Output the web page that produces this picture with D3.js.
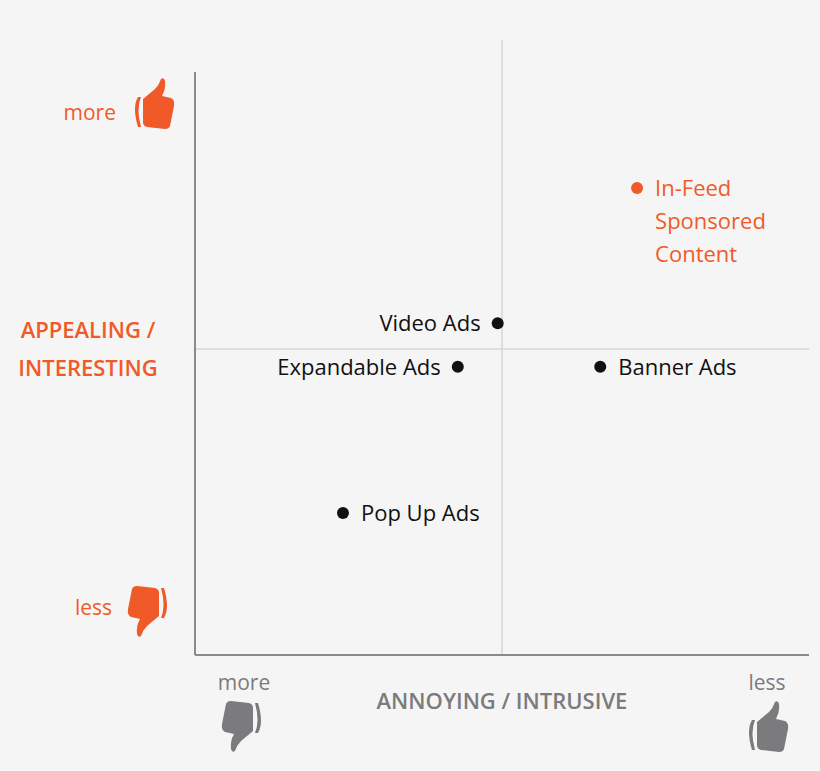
<!DOCTYPE html>
<html><head><meta charset="utf-8">
<script src="https://cdn.jsdelivr.net/npm/d3@7"></script>
<style>body{margin:0;background:#f5f5f5}svg{display:block;font-family:"Open Sans",Lato,sans-serif}</style>
</head><body><svg id="c" width="820" height="771"></svg>
<script>
const names = ["In-Feed\nSponsored\nContent","Video Ads","Expandable Ads","Banner Ads","Pop Up Ads"];
const intrusive = [7.2, 4.93, 4.28, 6.6, 2.41];
const appealing = [7.63, 5.42, 4.71, 4.71, 2.32];
const labelSide = ["right","left","left","right","right"];
const highlight = [true,false,false,false,false];

const ORANGE="#f05a28", GRAY="#7b7b7d";
const svg=d3.select("#c");
const x=d3.scaleLinear().domain([0,10]).range([195,809]);
const y=d3.scaleLinear().domain([0,10]).range([655,43]);

svg.append("line").attr("x1",x(5)).attr("x2",x(5)).attr("y1",y(10)-3).attr("y2",y(0)).attr("stroke","#d6d6d6").attr("stroke-width",1.5);
svg.append("line").attr("x1",x(0)).attr("x2",x(10)).attr("y1",y(5)).attr("y2",y(5)).attr("stroke","#d6d6d6").attr("stroke-width",1.5);
svg.append("line").attr("x1",x(0)).attr("x2",x(0)).attr("y1",72).attr("y2",y(0)).attr("stroke","#8a8a8a").attr("stroke-width",2);
svg.append("line").attr("x1",x(0)).attr("x2",x(10)).attr("y1",y(0)).attr("y2",y(0)).attr("stroke","#8a8a8a").attr("stroke-width",2);

names.forEach((n,i)=>{
  const c=highlight[i]?ORANGE:"#111";
  const px=x(intrusive[i]), py=y(appealing[i]);
  svg.append("circle").attr("cx",px).attr("cy",py).attr("r",6).attr("fill",c);
  const lines=n.split("\n");
  const t=svg.append("text").attr("fill",c).attr("font-size",22)
    .attr("text-anchor",labelSide[i]==="right"?"start":"end");
  lines.forEach((l,j)=>t.append("tspan").attr("x",labelSide[i]==="right"?px+18:px-17).attr("y",py+8+j*33).text(l));
});

svg.append("text").attr("x",88).attr("y",338).attr("text-anchor","middle").attr("fill",ORANGE).attr("font-size",22).attr("font-weight",600).text("APPEALING /");
svg.append("text").attr("x",88).attr("y",376).attr("text-anchor","middle").attr("fill",ORANGE).attr("font-size",22).attr("font-weight",600).text("INTERESTING");
svg.append("text").attr("x",502).attr("y",709).attr("text-anchor","middle").attr("fill",GRAY).attr("font-size",22).attr("font-weight",600).text("ANNOYING / INTRUSIVE");

svg.append("text").attr("x",116).attr("y",120).attr("text-anchor","end").attr("fill",ORANGE).attr("font-size",21).text("more");
svg.append("text").attr("x",112).attr("y",615).attr("text-anchor","end").attr("fill",ORANGE).attr("font-size",21).text("less");
svg.append("text").attr("x",244).attr("y",690).attr("text-anchor","middle").attr("fill",GRAY).attr("font-size",21).text("more");
svg.append("text").attr("x",767).attr("y",690).attr("text-anchor","middle").attr("fill",GRAY).attr("font-size",21).text("less");

function thumb(cx,cy,color,down){
  const g=svg.append("g").attr("transform",`translate(${cx},${cy})`+(down?" rotate(180)":""));
  g.append("path").attr("fill",color)
   .attr("d","M-15,-6 Q-21,4 -15,24 L-12,24 Q-17,6 -12,-6 Z");
  g.append("path").attr("fill",color)
   .attr("d","M-10,-4 L2,-14 Q6,-18 8,-24 Q11,-26 12,-22 Q13,-14 9,-7 L18,-5 Q22,-3 21,3 L17,23 Q16,26 12,26 L-6,24 Q-10,23 -10,19 Z");
}
thumb(153,103,ORANGE,false);
thumb(149,612,ORANGE,true);
thumb(243,727,GRAY,true);
thumb(767,726,GRAY,false);
</script></body></html>
